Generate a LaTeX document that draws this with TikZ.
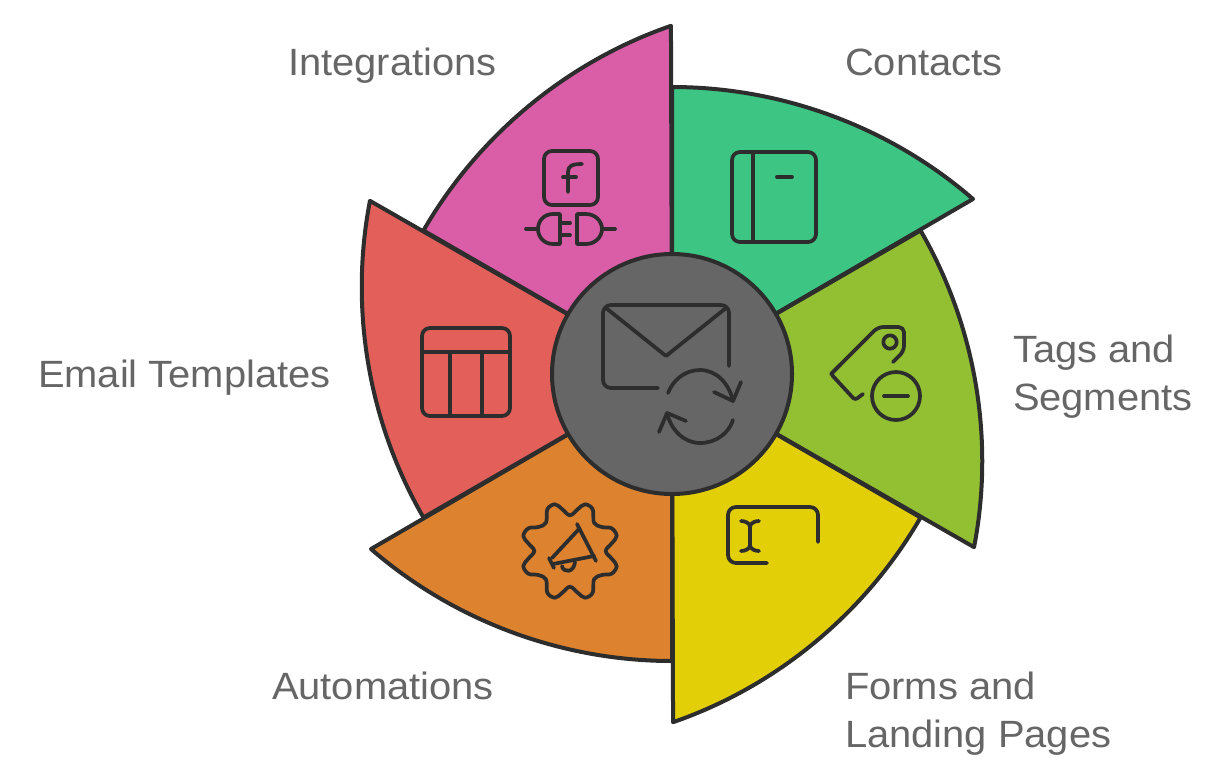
\documentclass[tikz,border=0pt]{standalone}
\usepackage{fontspec}
\setmainfont[FakeStretch=1.05]{Liberation Sans}
\definecolor{inkdark}{HTML}{2D2D2D}
\definecolor{labelgrey}{HTML}{666666}
\definecolor{hubgrey}{HTML}{666666}
\definecolor{cgreen}{HTML}{3CC583}
\definecolor{clime}{HTML}{93C032}
\definecolor{cyellow}{HTML}{E2CF08}
\definecolor{corange}{HTML}{DD8330}
\definecolor{cred}{HTML}{E35F5A}
\definecolor{cpink}{HTML}{D95DA7}
\tikzset{
  sector/.style={draw=inkdark,line width=3pt,line join=round},
  icon/.style={draw=inkdark,line width=2.8pt,line cap=round,line join=round},
  lbl/.style={anchor=base west,text=labelgrey,inner sep=0pt,outer sep=0pt,align=left,font=\fontsize{28.5}{36}\selectfont}
}
\begin{document}
\begin{tikzpicture}[x=0.75pt,y=-0.75pt]
\useasboundingbox (0,0) rectangle (1224,783);
\coordinate (c) at (672,374);
\foreach \i/\col in {0/cgreen,1/clime,2/cyellow,3/corange,4/cred,5/cpink}{
  \begin{scope}[rotate around={-60*\i:(c)}]
    \draw[sector,fill=\col] (c) -- (672,87) .. controls (782,87) and (890,127) .. (973,199) -- cycle;
  \end{scope}
}
\node[circle,draw=inkdark,fill=hubgrey,line width=3pt,minimum size=180pt,inner sep=0pt] (hub) at (c) {};
% hub icon
\draw[icon,rounded corners=6pt] (729,366) -- (729,305) -- (603,305) -- (603,388) -- (658,388);
\draw[icon] (606,308) -- (666,356) -- (726,308);
\draw[icon] (668,393) .. controls (673,380) and (685,370) .. (700,370) .. controls (716,370) and (729,383) .. (733,401);
\draw[icon] (714,392) -- (733,401) -- (741,382);
\draw[icon] (733,420) .. controls (729,433) and (716,443) .. (700,443) .. controls (684,443) and (671,430) .. (667,413);
\draw[icon] (686,421) -- (667,413) -- (659,432);
% contacts
\draw[icon,rounded corners=6pt] (732,152) rectangle (816,242);
\draw[icon] (753,152) -- (753,242);
\draw[icon] (777,177) -- (792,177);
% tags
\draw[icon,rounded corners=4pt] (893,362) -- (904,351) -- (904,327) -- (878,327) -- (831,374);
\draw[icon,rounded corners=2pt] (840,365) -- (831,374) -- (855,400) -- (863,394);
\draw[icon] (890,342) circle[radius=5pt];
\draw[icon] (896,396) circle[radius=18pt];
\draw[icon] (884,396) -- (908,396);
% forms
\draw[icon,rounded corners=6pt] (818,542) -- (818,507) -- (728,507) -- (728,563) -- (767,563);
\draw[icon] (750,526) -- (750,546);
\draw[icon] (741,521) .. controls (745,521) and (750,523) .. (750,527) .. controls (750,523) and (755,521) .. (759,521);
\draw[icon] (741,551) .. controls (745,551) and (750,549) .. (750,545) .. controls (750,549) and (755,551) .. (759,551);
% automations
\begin{scope}[shift={(570,551)}]
\draw[icon] plot[smooth cycle,tension=0.6] coordinates {
 (0,-35.7) (8,-42) (15,-46.7) (22.7,-41.7) (24,-28.3) (31.7,-24) (41.7,-22.7) (46.7,-15) (42,-8)
 (35.7,0) (42,8) (46.7,15) (41.7,22.7) (31.7,24) (24,28.3) (22.7,41.7) (15,46.7) (8,42)
 (0,35.7) (-8,42) (-15,46.7) (-22.7,41.7) (-24,28.3) (-31.7,24) (-41.7,22.7) (-46.7,15) (-42,8)
 (-35.7,0) (-42,-8) (-46.7,-15) (-41.7,-22.7) (-31.7,-24) (-24,-28.3) (-22.7,-41.7) (-15,-46.7) (-8,-42)};
\end{scope}
\draw[icon] (577,524) -- (596,561);
\draw[icon] (549,558) -- (554,568);
\draw[icon] (579,529) -- (552,558);
\draw[icon] (594,556) -- (553,564);
\draw[icon] (562,566) .. controls (563,573) and (574,573) .. (575,562);
% email templates
\draw[icon,rounded corners=6pt] (422,328) rectangle (510,416);
\draw[icon] (422,352) -- (510,352);
\draw[icon] (450,352) -- (450,416);
\draw[icon] (482,352) -- (482,416);
% integrations
\draw[icon,rounded corners=6pt] (544,151) rectangle (598,205);
\draw[icon] (568,192) -- (568,172) .. controls (568,166) and (572,164) .. (582,164);
\draw[icon] (563,177) -- (576,177);
\draw[icon] (526,229) -- (538,229);
\draw[icon] (560,214) -- (560,244) -- (553,244) .. controls (544,244) and (538,237) .. (538,229) .. controls (538,221) and (544,214) .. (553,214) -- cycle;
\draw[icon] (560,223) -- (570,223);
\draw[icon] (560,235) -- (570,235);
\draw[icon] (577,214) -- (577,244) -- (586,244) .. controls (595,244) and (602,237) .. (602,229) .. controls (602,221) and (595,214) .. (586,214) -- cycle;
\draw[icon] (602,229) -- (615,229);
% labels
\node[lbl] (lcontacts) at (845,75) {Contacts};
\node[lbl] (ltags) at (1013,410) {Tags and\\Segments};
\node[lbl] (lforms) at (845,747) {Forms and\\Landing Pages};
\node[lbl] (lauto) at (272,699) {Automations};
\node[lbl] (lemail) at (38,387) {Email Templates};
\node[lbl] (lint) at (288,75) {Integrations};
\end{tikzpicture}
\end{document}
